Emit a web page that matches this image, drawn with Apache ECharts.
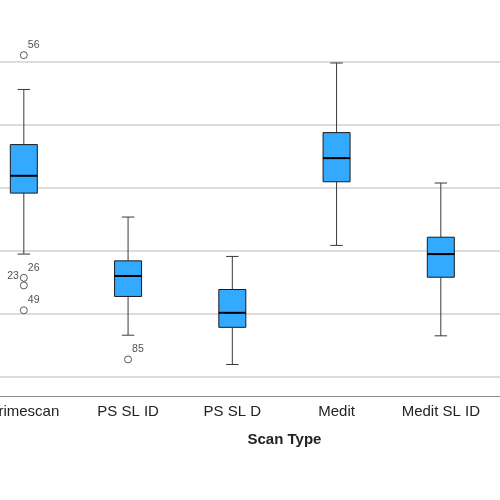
<!DOCTYPE html>
<html>
<head>
<meta charset="utf-8">
<script src="https://cdn.jsdelivr.net/npm/echarts@6/dist/echarts.min.js"></script>
<style>
html,body{margin:0;padding:0;background:#fff;}
#chart{width:500px;height:500px;}
</style>
</head>
<body>
<div id="chart"></div>
<script>
// Categories (the last slot lies outside the visible crop)
var categories = ['Primescan', 'PS SL ID', 'PS SL D', 'Medit', 'Medit SL ID', ''];
// Box statistics: [low whisker, Q1, median, Q3, high whisker]
var primescan = [58.95, 78.3, 83.8, 93.7, 111.2];
var psSlId    = [33.2, 45.5, 52.0, 56.8, 70.7];
var psSlD     = [23.9, 35.7, 40.3, 47.7, 58.2];
var medit     = [61.7, 81.9, 89.4, 97.5, 119.6];
var meditSlId = [33.0, 51.6, 58.95, 64.3, 81.5];
// Outliers
var outlierIds    = ['56', '26', '23', '49', '85'];
var outlierCats   = [0, 0, 0, 0, 1];
var outlierValues = [122.1, 51.4, 49.0, 41.1, 25.5];

var boxes = [primescan, psSlId, psSlD, medit, meditSlId];
var boxData = boxes.map(function (b, i) { return [i].concat(b); });

var outlierData = outlierIds.map(function (id, i) {
  var left = id === '23';
  return {
    name: id,
    value: [outlierCats[i], outlierValues[i]],
    label: left ? { position: [-1, -5.5], align: 'right' } : { position: [8, -6], align: 'left' }
  };
});

function renderBox(params, api) {
  var idx = api.value(0);
  var cx = api.coord([idx, 0])[0];
  var yLo = api.coord([idx, api.value(1)])[1];
  var yQ1 = api.coord([idx, api.value(2)])[1];
  var yMed = api.coord([idx, api.value(3)])[1];
  var yQ3 = api.coord([idx, api.value(4)])[1];
  var yHi = api.coord([idx, api.value(5)])[1];
  var bw = 27, cw = 12.5;
  var wStyle = { stroke: '#3a3a3a', lineWidth: 1 };
  return {
    type: 'group',
    children: [
      { type: 'line', shape: { x1: cx, y1: yHi, x2: cx, y2: yQ3 }, style: wStyle },
      { type: 'line', shape: { x1: cx, y1: yQ1, x2: cx, y2: yLo }, style: wStyle },
      { type: 'line', shape: { x1: cx - cw / 2, y1: yHi, x2: cx + cw / 2, y2: yHi }, style: wStyle },
      { type: 'line', shape: { x1: cx - cw / 2, y1: yLo, x2: cx + cw / 2, y2: yLo }, style: wStyle },
      { type: 'rect', shape: { x: cx - bw / 2, y: yQ3, width: bw, height: yQ1 - yQ3 },
        style: { fill: '#33aaff', stroke: '#1a1a1a', lineWidth: 1 } },
      { type: 'line', shape: { x1: cx - bw / 2, y1: yMed, x2: cx + bw / 2, y2: yMed },
        style: { stroke: '#000', lineWidth: 2 } }
    ]
  };
}

var chart = echarts.init(document.getElementById('chart'), null, { renderer: 'canvas' });
chart.setOption({
  animation: false,
  backgroundColor: '#fff',
  textStyle: { fontFamily: 'Liberation Sans' },
  grid: { left: -28.3, right: -97.2, top: 40, bottom: 104, containLabel: false, outerBoundsMode: 'none' },
  xAxis: {
    type: 'category',
    data: categories,
    boundaryGap: true,
    axisLine: { show: true, lineStyle: { color: '#8a8a8a', width: 1 } },
    axisTick: { show: false },
    axisLabel: { color: '#222', fontSize: 15, margin: 8, fontFamily: 'Liberation Sans', interval: 0, hideOverlap: false },
    splitLine: { show: false },
    name: 'Scan Type',
    nameLocation: 'middle',
    nameGap: 36,
    nameTextStyle: { color: '#222', fontSize: 15, fontWeight: 'bold', fontFamily: 'Liberation Sans' }
  },
  yAxis: {
    type: 'value',
    min: 13.9,
    max: 126.9,
    splitNumber: 5,
    axisLine: { show: false },
    axisTick: { show: false },
    axisLabel: { show: false },
    splitLine: { show: true, showMinLine: false, showMaxLine: false, lineStyle: { color: '#d0d0d0', width: 1.5 } }
  },
  series: [
    {
      type: 'custom',
      renderItem: renderBox,
      data: boxData,
      encode: { x: 0, y: [1, 2, 3, 4, 5] },
      z: 3
    },
    {
      type: 'scatter',
      data: outlierData,
      symbol: 'circle',
      symbolSize: 7,
      itemStyle: { color: '#fff', borderColor: '#333', borderWidth: 1 },
      label: {
        show: true,
        formatter: '{b}',
        fontSize: 10.5,
        color: '#222',
        verticalAlign: 'middle',
        fontFamily: 'Liberation Sans'
      },
      z: 4
    }
  ]
});
</script>
</body>
</html>
